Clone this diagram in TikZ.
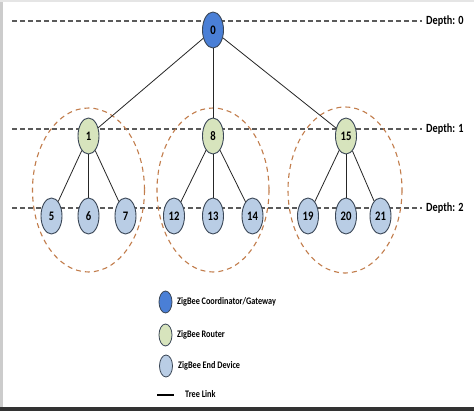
\documentclass[tikz,border=0pt]{standalone}
\usepackage{fontspec}
\setmainfont{Carlito}[FakeStretch=0.82]
\usetikzlibrary{shapes.geometric}
\definecolor{coordblue}{HTML}{4A7FD6}
\definecolor{routergreen}{HTML}{D7E4BD}
\definecolor{endblue}{HTML}{B9CDE5}
\definecolor{nodeborder}{HTML}{3A4656}
\definecolor{clusterorange}{HTML}{C27D4C}
\definecolor{depthgray}{HTML}{5A5A5A}
\tikzset{
  dev/.style={ellipse, draw=nodeborder, line width=0.9pt, minimum width=21pt, minimum height=36pt, inner sep=0pt, font=\bfseries\fontsize{13}{13}\selectfont},
  coord/.style={dev, fill=coordblue},
  router/.style={dev, fill=routergreen},
  enddev/.style={dev, fill=endblue},
  legdot/.style={ellipse, draw=nodeborder, line width=0.8pt, minimum width=13pt, minimum height=22pt, inner sep=0pt},
  legtext/.style={anchor=west, inner sep=0pt, font=\bfseries\fontsize{10}{10}\selectfont},
  depthline/.style={depthgray, line width=1.4pt, dash pattern=on 5pt off 3pt},
  depthlabel/.style={anchor=west, inner sep=0pt, font=\bfseries\fontsize{12.5}{12.5}\selectfont},
  cluster/.style={clusterorange, line width=1.1pt, dash pattern=on 5pt off 4pt},
  treelink/.style={draw=black!85, line width=0.8pt}
}
\begin{document}
\begin{tikzpicture}[x=1pt,y=-1pt]
\useasboundingbox (0,0) rectangle (474,411);
\fill[white] (0,0) rectangle (474,411);
\fill[black!20] (0,0) rectangle (3,411);
\fill[black!10] (0,0) rectangle (474,2);
\fill[black!80] (0,407) rectangle (474,411);

% depth lines
\coordinate (d0s) at (12,21);  \coordinate (d0e) at (422,21);
\coordinate (d1s) at (12,129); \coordinate (d1e) at (422,129);
\coordinate (d2s) at (12,208); \coordinate (d2e) at (422,208);
\draw[depthline] (d0s) -- (d0e);
\draw[depthline] (d1s) -- (d1e);
\draw[depthline] (d2s) -- (d2e);
\node[depthlabel] (l0) at (426,21) {Depth: 0};
\node[depthlabel] (l1) at (426,129) {Depth: 1};
\node[depthlabel] (l2) at (426,208) {Depth: 2};

% clusters
\draw[cluster] (88.5,190) ellipse [x radius=56, y radius=82];
\draw[cluster] (213,190) ellipse [x radius=56, y radius=82];
\draw[cluster] (345,190) ellipse [x radius=57, y radius=83];

% nodes
\node[coord] (n0) at (213,30) {0};
\node[router] (n1) at (88.5,136) {1};
\node[router] (n8) at (213,136) {8};
\node[router] (n15) at (346,136) {15};
\node[enddev] (n5) at (51.5,216) {5};
\node[enddev] (n6) at (88.5,216) {6};
\node[enddev] (n7) at (125.5,216) {7};
\node[enddev] (n12) at (174,216) {12};
\node[enddev] (n13) at (213,216) {13};
\node[enddev] (n14) at (252.5,216) {14};
\node[enddev] (n19) at (308,216) {19};
\node[enddev] (n20) at (346,216) {20};
\node[enddev] (n21) at (380.5,216) {21};

% links
\draw[treelink] (n0) -- (n1);
\draw[treelink] (n0) -- (n8);
\draw[treelink] (n0) -- (n15);
\foreach \c in {n5,n6,n7} \draw[treelink] (n1) -- (\c);
\foreach \c in {n12,n13,n14} \draw[treelink] (n8) -- (\c);
\foreach \c in {n19,n20,n21} \draw[treelink] (n15) -- (\c);

% legend
\node[legdot, fill=coordblue] (k0) at (165.5,302) {};
\node[legtext] (t0) at (177,302) {ZigBee Coordinator/Gateway};
\node[legdot, fill=routergreen] (k1) at (165.5,335) {};
\node[legtext] (t1) at (177,335) {ZigBee Router};
\node[legdot, fill=endblue] (k2) at (166,366) {};
\node[legtext] (t2) at (178,366) {ZigBee End Device};
\coordinate (ks) at (157,395);
\coordinate (ke) at (174,395);
\draw[black, line width=1.3pt] (ks) -- (ke);
\node[legtext] (t3) at (185,394) {Tree Link};
\end{tikzpicture}
\end{document}
